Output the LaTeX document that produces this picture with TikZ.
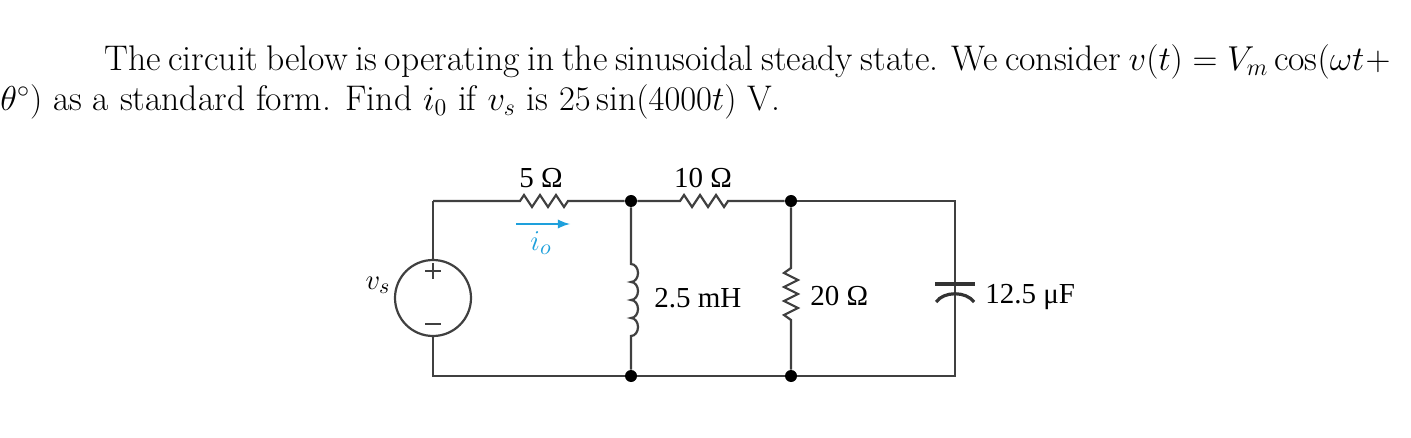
\documentclass[tikz,border=0pt]{standalone}
\usepackage{fontspec}
\newfontfamily\lab{Liberation Serif}
\begin{document}
\begin{tikzpicture}[x=0.5pt,y=-0.5pt,
  wire/.style={draw=black!75,line width=1.1pt},
  dot/.style={circle,fill=black,inner sep=0pt,minimum size=6pt},
  lbl/.style={font=\lab\fontsize{14.5}{16}\selectfont,inner sep=0pt}]
\useasboundingbox (0,0) rectangle (1411,438);
\node[anchor=north west,inner sep=0pt] (txt) at (0,44) {\parbox{695pt}{\fontsize{17.8}{20}\selectfont\parindent=52pt\hspace*{0pt}The circuit below is operating in the sinusoidal steady state. We consider $v(t) = V_m\cos(\omega t + \theta^\circ)$ as a standard form. Find $i_0$ if $v_s$ is $25\sin(4000t)$~V.}};
% nodes
\coordinate (tl) at (433,201); \coordinate (bl) at (433,376);
\node[dot] (n1) at (631,201) {}; \node[dot] (n2) at (791,201) {};
\node[dot] (b1) at (631,376) {}; \node[dot] (b2) at (791,376) {};
\coordinate (tr) at (955,201); \coordinate (br) at (955,376);
\node[circle,draw=black!75,line width=1.1pt,minimum size=38pt,inner sep=0pt] (src) at (433,298) {};
\draw[wire] (433,263) -- (433,279) (425,271) -- (441,271);
\draw[wire] (425,324) -- (441,324);
\node[lbl,font=\fontsize{15}{15}\selectfont] (vs) at (378,285) {$v_s$};
% top wires with resistors
\draw[wire] (tl) -- (src.north);
\draw[wire] (src.south) -- (bl) -- (b1) -- (b2) -- (br) -- (tr) -- (n2);
\draw[wire] (tl) -- (520,201) -- (524,195) -- (532,207) -- (540,195) -- (548,207) -- (556,195) -- (564,207) -- (568,201) -- (n1);
\draw[wire] (n1) -- (680,201) -- (684,195) -- (692,207) -- (700,195) -- (708,207) -- (716,195) -- (724,207) -- (728,201) -- (n2);
\node[lbl] (r1) at (541,178) {5 Ω};
\node[lbl] (r2) at (703,178) {10 Ω};
% io arrow
\coordinate (a1) at (516,224); \coordinate (a2) at (570,224);
\draw[draw={rgb,255:red,30;green,160;blue,220},line width=1.1pt,-{latex}] (a1) -- (a2);
\node[lbl,text={rgb,255:red,30;green,160;blue,220},font=\fontsize{15}{15}\selectfont] (io) at (541,243) {$i_o$};
% inductor
\draw[wire] (n1) -- (631,264)
  arc[start angle=-90,end angle=90,x radius=7,y radius=9]
  arc[start angle=-90,end angle=90,x radius=7,y radius=9]
  arc[start angle=-90,end angle=90,x radius=7,y radius=9]
  arc[start angle=-90,end angle=90,x radius=7,y radius=9] -- (b1);
\node[lbl,anchor=west] (lL) at (654,298) {2.5 mH};
% 20 ohm
\draw[wire] (n2) -- (791,268) -- (784,273) -- (798,280) -- (784,287) -- (798,294) -- (784,301) -- (798,308) -- (784,315) -- (791,320) -- (b2);
\node[lbl,anchor=west] (lR) at (810,296) {20 Ω};
% capacitor
\draw[wire] (tr) -- (955,284);
\draw[draw=black!80,line width=1.6pt] (935,284) -- (975,284);
\draw[wire] (955,292) -- (br);
\draw[draw=black!80,line width=1.6pt] (936,302) .. controls (944,291) and (966,291) .. (974,302);
\node[lbl,anchor=west] (lC) at (985,297) {12.5 μF};
\end{tikzpicture}
\end{document}
